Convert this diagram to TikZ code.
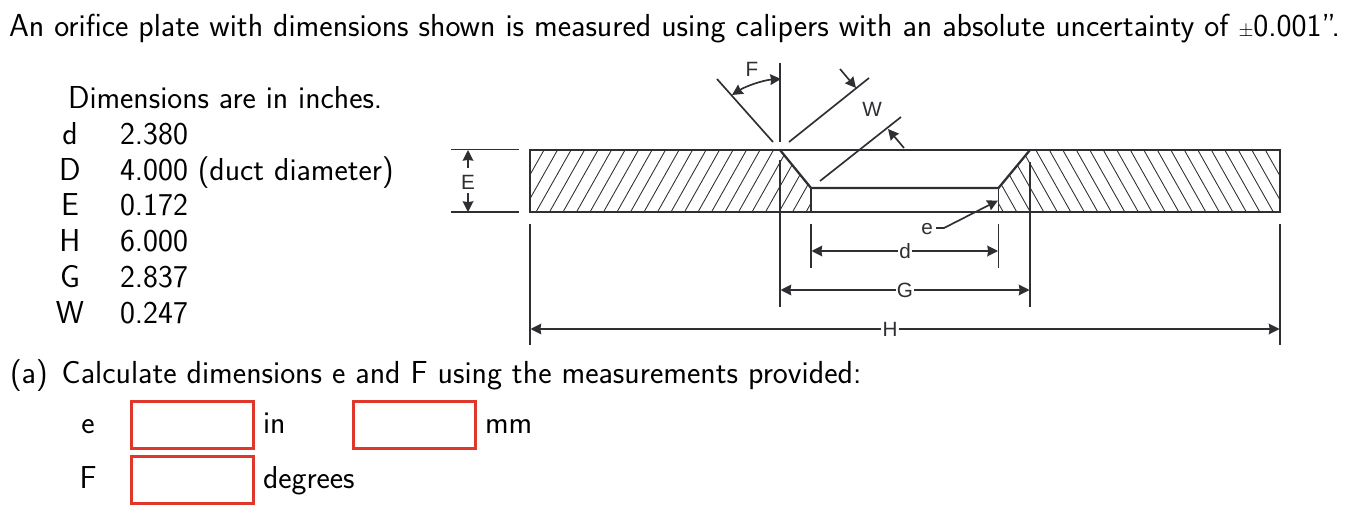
\documentclass[tikz,border=0pt]{standalone}
\usepackage{fontspec}
\setsansfont{Latin Modern Sans}
\newfontfamily\lblfont{Liberation Sans}
\usetikzlibrary{arrows.meta}
\definecolor{ink}{HTML}{2E2E33}
\definecolor{boxred}{HTML}{E0372B}
\tikzset{
  txt/.style={anchor=base west,inner sep=0pt,outer sep=0pt,font=\sffamily\fontsize{23.8}{28}\selectfont,text=black},
  ctxt/.style={txt,anchor=base},
  lbl/.style={inner sep=0.8pt,outer sep=0pt,font=\lblfont\fontsize{15.5}{16}\selectfont,text=ink},
  dim/.style={draw=ink,line width=1.25pt},
  hatchln/.style={draw=ink,line width=0.65pt},
  outline/.style={draw=ink,line width=1.7pt},
  arr/.style={dim,-{Stealth[length=8pt,width=8pt,inset=0.6pt]}},
  arrb/.style={dim,{Stealth[length=8pt,width=8pt,inset=0.6pt]}-{Stealth[length=8pt,width=8pt,inset=0.6pt]}},
  ansbox/.style={draw=boxred,line width=2.4pt,minimum width=91.6pt,minimum height=35.1pt,inner sep=0pt,anchor=north west}
}
\begin{document}
\begin{tikzpicture}[x=0.75pt,y=-0.75pt]
\useasboundingbox (0,0) rectangle (1351,517);
% texts
\node[txt] (title) at (9,37) {\fontsize{23.9}{28}\selectfont An orifice plate with dimensions shown is measured using calipers with an absolute uncertainty of {\fontsize{15}{16}\selectfont$\pm$}0.001''.};
\node[txt] (dimhead) at (68,108.5) {Dimensions are in inches.};
\foreach \n/\l/\v/\y in {a/d/2.380/144,b/D/{4.000 (duct diameter)}/180,c/E/0.172/215,f/H/6.000/251,g/G/2.837/287,h/W/0.247/323}{
  \node[ctxt] (k\n) at (70,\y) {\l};
  \node[txt] (v\n) at (120,\y) {\v};
}
\node[txt] (parta) at (10,383.5) {\fontsize{23.9}{28}\selectfont (a)\hspace{10.5pt}Calculate dimensions e and F using the measurements provided:};
\node[ctxt] (le) at (88,433) {e};
\node[ctxt] (lf) at (88,488) {F};
\node[ansbox] (b1) at (129.7,400) {};
\node[ansbox] (b2) at (351.7,400) {};
\node[ansbox] (b3) at (129.7,455) {};
\node[txt] (u1) at (263,433) {in};
\node[txt] (u2) at (485,433) {mm};
\node[txt] (u3) at (263,488) {degrees};
% hatching
\begin{scope}
\clip (530,150) -- (780,150) -- (811,188) -- (811,212) -- (530,212) -- cycle;
\foreach \k in {-1,...,24}{
  \draw[hatchln] ({544+13.5*\k},150) -- ({544+13.5*\k-35},212);
}
\end{scope}
\begin{scope}
\clip (1030,150) -- (1280,150) -- (1280,212) -- (998,212) -- (998,188) -- cycle;
\foreach \k in {-8,...,20}{
  \draw[hatchln] ({1049.3+13.5*\k},150) -- ({1049.3+13.5*\k+35},212);
}
\end{scope}
% plate
\draw[outline] (530,150) rectangle (1280,212);
\draw[outline] (780,150) -- (811,188) -- (998.5,188) -- (1030,150);
\draw[outline] (811,188) -- (811,212);
\draw[dim] (998.5,188) -- (998.5,212);
% E
\coordinate (e1a) at (451,149.5); \coordinate (e1b) at (519,149.5);
\coordinate (e2a) at (451,212); \coordinate (e2b) at (519,212);
\draw[dim] (e1a) -- (e1b);
\draw[dim] (e2a) -- (e2b);
\node[lbl] (E) at (468,182) {E};
\coordinate (etop) at (468,150); \coordinate (ebot) at (468,212);
\draw[arr] (468,168) -- (etop);
\draw[arr] (468,193) -- (ebot);
% extension lines
\draw[dim] (530,224) -- (530,345);
\draw[dim] (1280,224) -- (1280,345);
\draw[dim] (780,63) -- (780,142);
\draw[dim] (780,160) -- (780,307);
\draw[dim] (1030,162) -- (1030,307);
\draw[dim] (811,224) -- (811,268);
\draw[dim] (998.5,224) -- (998.5,268);
% d G H
\node[lbl] (d) at (905,251) {d};
\node[lbl] (G) at (905,290) {G};
\node[lbl] (H) at (890,329) {H};
\coordinate (dl) at (811.5,251); \coordinate (dr) at (998,251);
\coordinate (gl) at (780.5,290); \coordinate (gr) at (1029.5,290);
\coordinate (hl) at (530.5,329); \coordinate (hr) at (1279.5,329);
\draw[arr] (d) -- (dl); \draw[arr] (d) -- (dr);
\draw[arr] (G) -- (gl); \draw[arr] (G) -- (gr);
\draw[arr] (H) -- (hl); \draw[arr] (H) -- (hr);
% F, W
\draw[dim] (717,79) -- (773,142);
\draw[dim] (789,142) -- (869,78);
\draw[dim] (820,181) -- (901,117);
\node[lbl] (F) at (752,69) {F};
\node[lbl] (W) at (872,109) {W};
\coordinate (fr) at (781,79); \coordinate (fl) at (732,95);
\draw[arrb] (fr) .. controls (764,80) and (746,86) .. (fl);
\draw[arr] (840,69) -- (856,88);
\draw[arr] (904,148) -- (888,129);
% e
\node[lbl,inner sep=0pt] (e) at (927,229) {e};
\coordinate (ek) at (944,228); \coordinate (etip) at (998,200.5);
\draw[arr] (936,228) -- (ek) -- (etip);
\end{tikzpicture}
\end{document}
